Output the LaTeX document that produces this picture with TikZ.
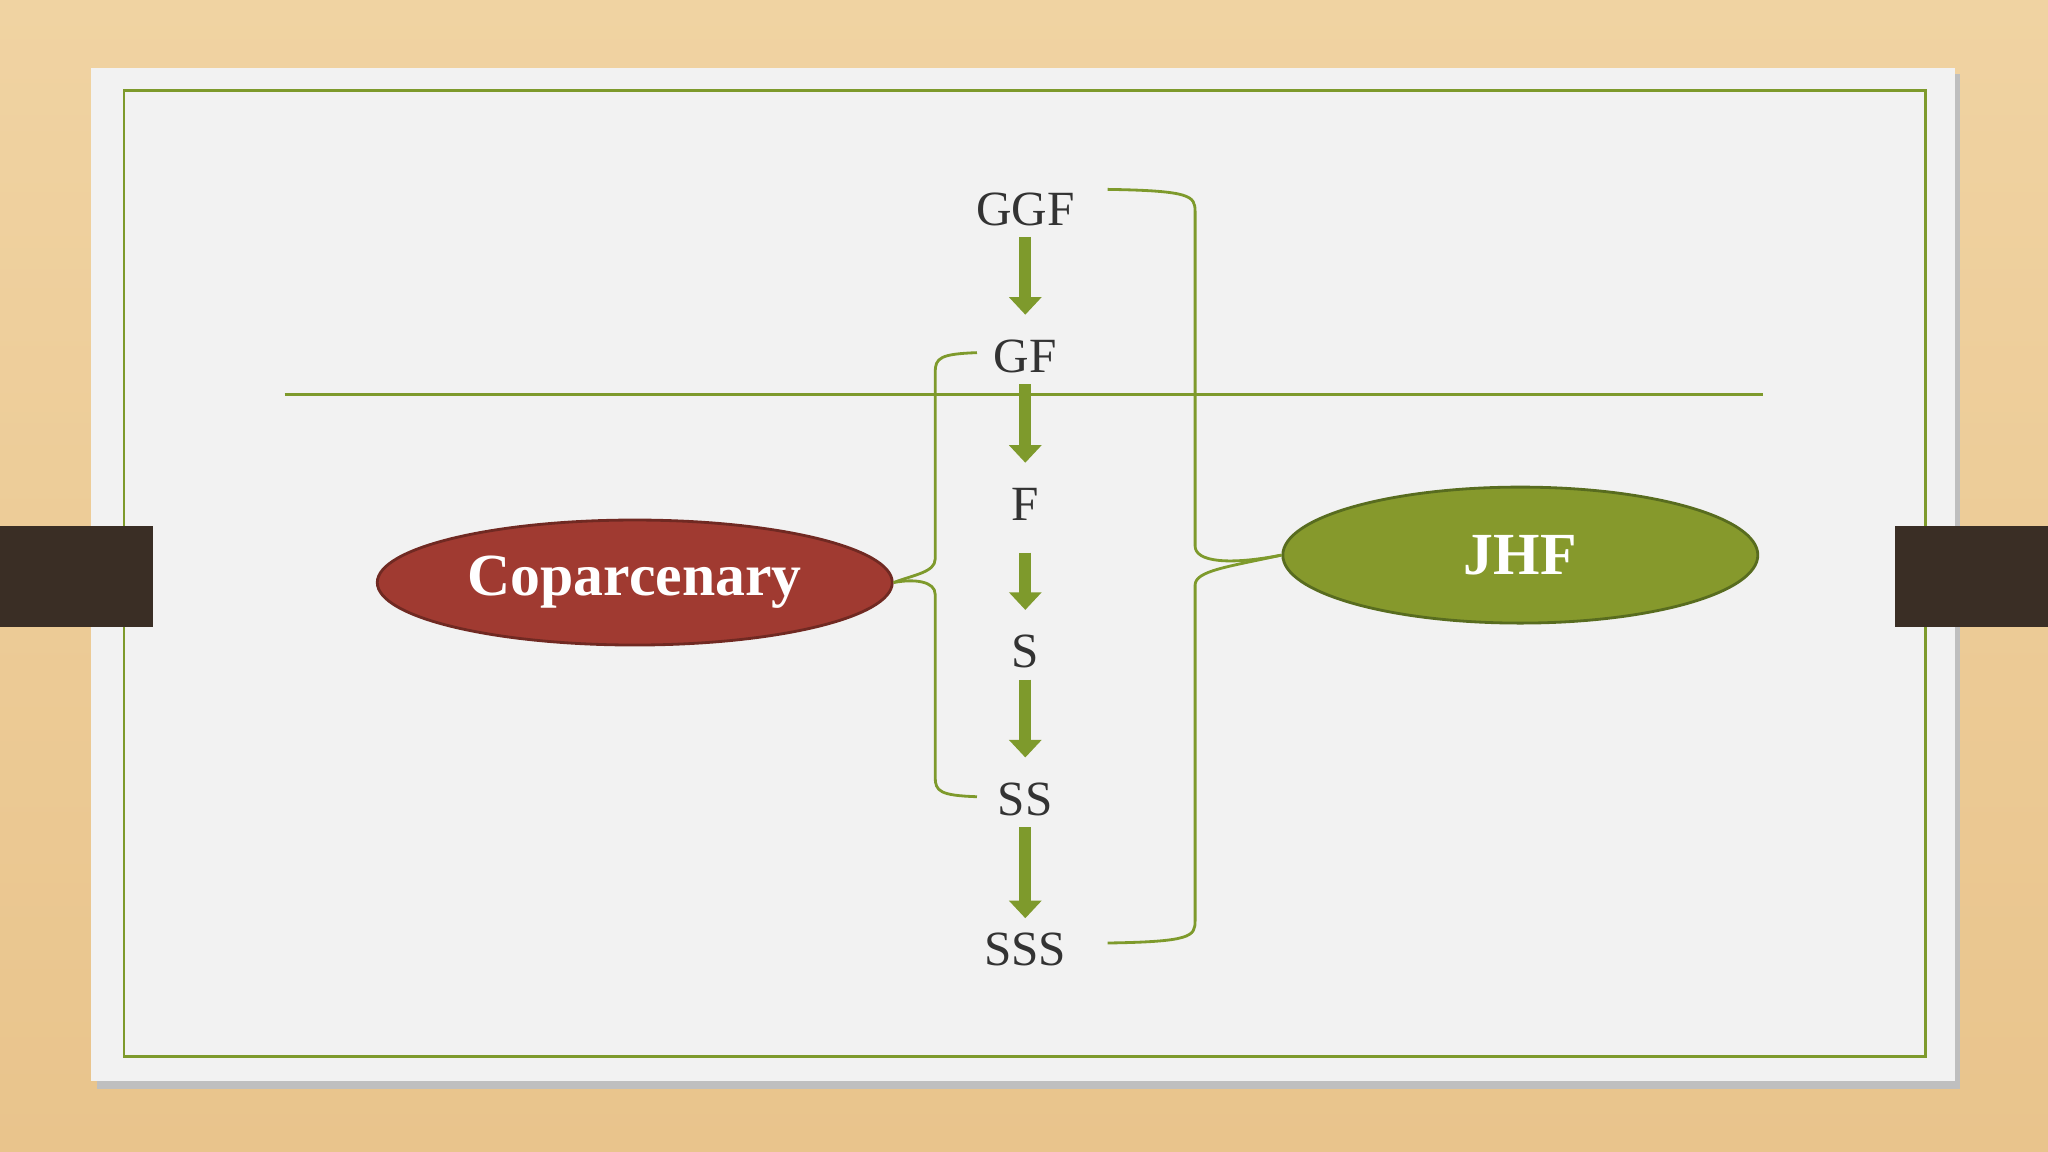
\documentclass[tikz,border=0pt]{standalone}
\usepackage{fontspec}
\setmainfont{Liberation Serif}
\usetikzlibrary{arrows.meta,shapes.geometric}
\definecolor{wood}{HTML}{E9C48C}
\definecolor{woodl}{HTML}{F0D3A2}
\definecolor{card}{HTML}{F2F2F2}
\definecolor{olive}{HTML}{7E9A2C}
\definecolor{tab}{HTML}{3A2E25}
\definecolor{copred}{HTML}{A03A31}
\definecolor{jhfg}{HTML}{86992C}
\tikzset{
  lbl/.style={font=\fontsize{14}{16}\selectfont, text=black!80, inner sep=1pt},
  gen/.style={draw=olive, line width=3.4pt, -{Triangle[width=9pt,length=5pt]}, shorten <=2pt, shorten >=6pt},
  brk/.style={draw=olive, line width=0.8pt},
  ell/.style={ellipse, draw, line width=0.8pt, text=white, font=\bfseries\fontsize{17}{19}\selectfont}
}
\begin{document}
\begin{tikzpicture}[x=0.01306cm,y=-0.01306cm]
\useasboundingbox (0,0) rectangle (1568,882);
\shade[top color=woodl, bottom color=wood] (0,0) rectangle (1568,882);
\fill[black!25] (74,57) rectangle (1501,834);
\fill[card] (70,52) rectangle (1497,828);
\draw[olive, line width=0.8pt] (95,69) rectangle (1474,809);
\fill[tab] (0,403) rectangle (117,480);
\fill[tab] (1451,403) rectangle (1568,480);
\draw[olive, line width=0.8pt] (218,302) -- (1350,302);
\node[lbl] (ggf) at (785,160) {GGF};
\node[lbl] (gf) at (785,273) {GF};
\node[lbl] (f) at (785,386) {F};
\node[lbl] (s) at (785,499) {S};
\node[lbl] (ss) at (785,612) {SS};
\node[lbl] (sss) at (785,727) {SSS};
\draw[gen] (ggf) -- (gf);
\draw[gen] (gf) -- (f);
\draw[gen, shorten <=8pt] (f) -- (s);
\draw[gen] (s) -- (ss);
\draw[gen, shorten >=3pt] (ss) -- (sss);
\node[ell, fill=copred, draw=copred!70!black, minimum width=5.15cm, minimum height=1.25cm] (cop) at (486,446) {Coparcenary};
\node[ell, fill=jhfg, draw=olive!70!black, minimum width=4.75cm, minimum height=1.36cm] (jhf) at (1164,425) {JHF};
\coordinate (rt) at (848,145); \coordinate (rb) at (848,722);
\coordinate (lt) at (748,270); \coordinate (lb) at (748,610);
\draw[brk] (rt) .. controls (912,146) and (915,150) .. (915,162) -- (915,418)
  .. controls (915,430) and (940,433) .. (jhf.west);
\draw[brk] (rb) .. controls (912,721) and (915,717) .. (915,705) -- (915,448)
  .. controls (915,437) and (940,434) .. (jhf.west);
\draw[brk] (lt) .. controls (720,271) and (716,274) .. (716,285) -- (716,428)
  .. controls (716,438) and (700,440) .. (cop.east);
\draw[brk] (lb) .. controls (720,609) and (716,606) .. (716,595) -- (716,455)
  .. controls (716,445) and (700,443) .. (cop.east);
\end{tikzpicture}
\end{document}
